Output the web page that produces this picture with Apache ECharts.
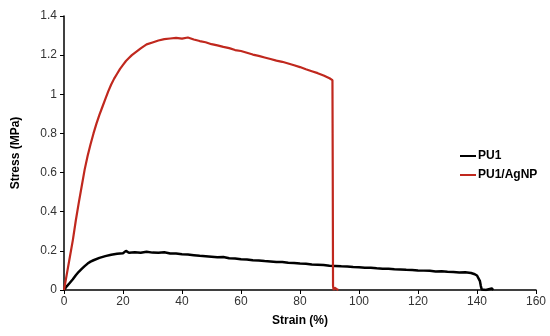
<!DOCTYPE html>
<html>
<head>
<meta charset="utf-8">
<script src="https://cdn.jsdelivr.net/npm/echarts@6/dist/echarts.min.js"></script>
<style>html,body{margin:0;padding:0;background:#fff}#c{width:550px;height:336px}</style>
</head>
<body>
<div id="c"></div>
<script>
var seriesNames = ['PU1', 'PU1/AgNP'];
var xTicks = [0, 20, 40, 60, 80, 100, 120, 140, 160];
var yTicks = [0, 0.2, 0.4, 0.6, 0.8, 1, 1.2, 1.4];

var pu1Strain = [0,1,2,3,4,5,6,7,8,9,10,12,14,16,18,20,21,22,24,26,28,30,32,34,36,38,40,42,44,46,48,50,52,54,56,58,60,62,64,66,68,70,72,74,76,78,80,82,84,86,88,90,92,94,96,98,100,102,104,106,108,110,112,114,116,118,120,122,124,126,128,130,132,134,136,138,139,140,140.5,141,141.3,141.6,142,143,144,144.5,145,145.5];
var pu1Stress = [0,0.02,0.037,0.055,0.075,0.093,0.108,0.122,0.135,0.145,0.152,0.164,0.173,0.18,0.185,0.188,0.2,0.19,0.193,0.19,0.195,0.191,0.19,0.193,0.187,0.186,0.183,0.181,0.178,0.175,0.173,0.17,0.167,0.169,0.162,0.161,0.157,0.156,0.152,0.151,0.148,0.146,0.143,0.143,0.139,0.138,0.135,0.134,0.13,0.129,0.128,0.124,0.123,0.121,0.12,0.117,0.116,0.114,0.114,0.111,0.109,0.108,0.106,0.105,0.103,0.102,0.1,0.099,0.098,0.095,0.096,0.093,0.092,0.089,0.091,0.087,0.082,0.074,0.064,0.045,0.02,0.003,0,0,0.004,0,0.008,0];

var agStrain = [0,1,2,3,4,5,6,7,8,9,10,11,12,13,14,15,16,17,18,19,20,21,22,23,24,26,28,30,32,34,36,38,40,42,44,46,48,50,52,54,56,58,60,62,64,66,68,70,72,74,76,78,80,82,84,86,88,90,91,91.1,91.2,91.4,91.7,92,92.5,93];
var agStress = [0,0.085,0.17,0.255,0.355,0.445,0.53,0.615,0.685,0.745,0.8,0.85,0.895,0.935,0.975,1.015,1.05,1.08,1.105,1.13,1.15,1.17,1.185,1.2,1.212,1.235,1.255,1.265,1.275,1.282,1.285,1.288,1.284,1.29,1.28,1.272,1.266,1.256,1.25,1.242,1.236,1.226,1.221,1.212,1.203,1.196,1.188,1.18,1.172,1.166,1.157,1.148,1.139,1.128,1.118,1.108,1.096,1.082,1.072,0.6,0.02,0,0.012,0.008,0.004,0];

function pairs(xs, ys) { return xs.map(function (x, i) { return [x, ys[i]]; }); }

var chart = echarts.init(document.getElementById('c'), null, {renderer: 'canvas'});
var axisLabelStyle = {color: '#333', fontSize: 12, fontFamily: 'Liberation Sans, Arial, sans-serif'};
chart.setOption({
  animation: false,
  grid: {left: 64, right: 14, top: 16, bottom: 46, containLabel: false},
  legend: {
    orient: 'vertical', left: 455, top: 145, itemWidth: 16, itemHeight: 2, itemGap: 7,
    icon: 'rect',
    textStyle: {color: '#000', fontSize: 12, fontWeight: 'bold', fontFamily: 'Liberation Sans, Arial, sans-serif', padding: [0,0,0,-3]},
    data: seriesNames
  },
  xAxis: {
    type: 'value', min: xTicks[0], max: xTicks[xTicks.length - 1], interval: 20,
    name: 'Strain (%)', nameLocation: 'middle', nameGap: 25,
    nameTextStyle: {color: '#000', fontSize: 12, fontWeight: 'bold', fontFamily: 'Liberation Sans, Arial, sans-serif'},
    axisLine: {lineStyle: {color: '#000', width: 1.5}},
    axisTick: {show: true, inside: false, length: 4, lineStyle: {color: '#000'}},
    axisLabel: Object.assign({margin: 6}, axisLabelStyle),
    splitLine: {show: false}
  },
  yAxis: {
    type: 'value', min: yTicks[0], max: yTicks[yTicks.length - 1], interval: 0.2,
    name: 'Stress (MPa)', nameLocation: 'middle', nameGap: 42, nameRotate: 90,
    nameTextStyle: {color: '#000', fontSize: 12, fontWeight: 'bold', fontFamily: 'Liberation Sans, Arial, sans-serif'},
    axisLine: {show: true, lineStyle: {color: '#000', width: 1.5}},
    axisTick: {show: true, inside: false, length: 4, lineStyle: {color: '#000'}},
    axisLabel: Object.assign({margin: 7, formatter: function (v) { return String(Math.round(v * 10) / 10); }}, axisLabelStyle),
    splitLine: {show: false}
  },
  series: [
    {name: seriesNames[0], type: 'line', data: pairs(pu1Strain, pu1Stress), showSymbol: false, symbol: 'none',
     lineStyle: {color: '#000', width: 2.5}, itemStyle: {color: '#000'}, z: 2},
    {name: seriesNames[1], type: 'line', data: pairs(agStrain, agStress), showSymbol: false, symbol: 'none',
     lineStyle: {color: '#C0281E', width: 2.2}, itemStyle: {color: '#C0281E'}, z: 3}
  ]
});
</script>
</body>
</html>
